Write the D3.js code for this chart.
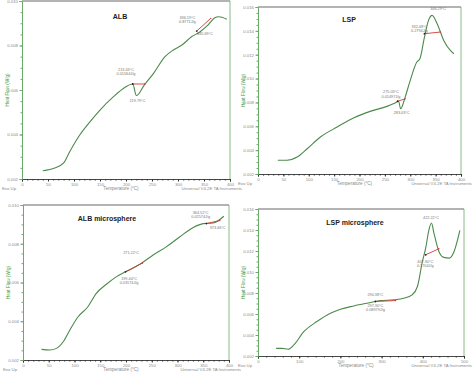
<!DOCTYPE html>
<html>
<head>
<meta charset="utf-8">
<script src="https://cdn.jsdelivr.net/npm/d3@7"></script>
<style>
  body { margin: 0; background: #fff; }
  svg text { font-family: "Liberation Sans", Arial, sans-serif; }
</style>
</head>
<body>
<div id="chart"></div>
<script>
//----------------------------------------------------------------------------------------------------
// values (temperature in °C, heat flow in W/g)
var albTemp   = [40, 63, 80, 92, 111, 131, 150, 176, 195, 213, 220, 235, 253, 275, 291, 307, 326, 342, 357, 371, 378, 394];
var albFlow   = [0.00237, 0.00249, 0.00272, 0.00324, 0.00398, 0.00458, 0.0051, 0.0057, 0.00607, 0.00627, 0.00575, 0.00622,
                 0.00675, 0.0075, 0.0078, 0.00801, 0.00839, 0.00861, 0.0089, 0.00925, 0.00929, 0.00918];

var lspTemp   = [39, 57, 77, 97, 123, 156, 189, 221, 254, 270, 277, 281, 290, 300, 313, 319, 328, 336, 343, 353, 366, 379, 386];
var lspFlow   = [0.00315, 0.00315, 0.00342, 0.00412, 0.0051, 0.00594, 0.00672, 0.00725, 0.00767, 0.00795, 0.0081, 0.00747,
                 0.00845, 0.00985, 0.01139, 0.01166, 0.01348, 0.01488, 0.0153, 0.0146, 0.0132, 0.01236, 0.01208];

var albmTemp  = [36, 52, 65, 78, 91, 107, 126, 142, 162, 181, 199, 227, 252, 278, 304, 330, 350, 369, 390];
var albmFlow  = [0.00255, 0.00252, 0.0026, 0.00294, 0.00355, 0.00423, 0.00475, 0.00543, 0.00591, 0.00629, 0.00655, 0.00694,
                 0.00741, 0.00784, 0.00835, 0.00883, 0.00904, 0.00907, 0.00942];

var lspmTemp  = [44, 58, 73, 87, 111, 143, 176, 200, 233, 273, 297, 330, 354, 374, 387, 399, 407, 415, 421, 427, 439, 451, 464, 476, 490];
var lspmFlow  = [0.00273, 0.00273, 0.00264, 0.00305, 0.00432, 0.00528, 0.00607, 0.00645, 0.00677, 0.00709, 0.00728, 0.00735,
                 0.0075, 0.00782, 0.00862, 0.011, 0.01228, 0.01403, 0.01466, 0.01371, 0.01196, 0.01139, 0.01132, 0.01196, 0.01396];

var panelTitles = ["ALB", "LSP", "ALB microsphere", "LSP microsphere"];
var yTicks8  = [0.002, 0.004, 0.006, 0.008, 0.010];
var yTicks16 = [0.002, 0.004, 0.006, 0.008, 0.010, 0.012, 0.014, 0.016];
var xTicks400 = [0, 50, 100, 150, 200, 250, 300, 350, 400];
var xTicks500 = [0, 100, 200, 300, 400, 500];

// tangent / baseline segments: [t0, f0, t1, f1]
var albBaselines  = [[213, 0.00627, 236, 0.00627], [336, 0.00865, 363, 0.00922]];
var lspBaselines  = [[275, 0.0081, 290, 0.0083], [328, 0.01376, 359, 0.0139]];
var albmBaselines = [[199, 0.00655, 232, 0.00701], [356, 0.00904, 382, 0.0092]];
var lspmBaselines = [[285, 0.00719, 334, 0.00728], [407, 0.01164, 439, 0.01221]];

// annotation labels: [t, f, text lines]
var albLabels  = [[200, 0.00685, ["213.43°C", "0.01564J/g"]], [222, 0.00548, ["219.79°C"]],
                  [318, 0.00918, ["336.19°C", "0.8771J/g"]], [352, 0.00845, ["345.69°C"]]];
var lspLabels  = [[262, 0.00875, ["275.03°C", "0.01497J/g"]], [283, 0.00705, ["283.03°C"]],
                  [318, 0.01425, ["332.48°C", "0.2794J/g"]], [355, 0.01575, ["346.29°C"]]];
var albmLabels = [[210, 0.00745, ["271.22°C"]], [206, 0.00612, ["199.44°C", "0.03174J/g"]],
                  [345, 0.00955, ["364.52°C", "0.02574J/g"]], [378, 0.00877, ["373.46°C"]]];
var lspmLabels = [[285, 0.00775, ["290.38°C"]], [285, 0.00665, ["297.30°C", "0.08979J/g"]],
                  [420, 0.01505, ["422.22°C"]], [406, 0.01085, ["407.30°C", "0.1704J/g"]]];

//----------------------------------------------------------------------------------------------------
var width = 474, height = 383;
var curveColor = "#4b8a4b";
var frameGreen = "#6aab6a";
var labelGray = "#8a8a8a";

var svg = d3.select("#chart").append("svg")
    .attr("width", width)
    .attr("height", height);

var panels = [
   {title: panelTitles[0], temp: albTemp, flow: albFlow, box: [22, 230, 1, 179], xMax: 400, yMax: 0.010,
    xTicks: xTicks400, yTicks: yTicks8, xMinor: 10, yMinor: 0.0005, base: albBaselines, labels: albLabels, titleAt: [120, 19]},
   {title: panelTitles[1], temp: lspTemp, flow: lspFlow, box: [258, 461, 7, 174], xMax: 400, yMax: 0.016,
    xTicks: xTicks400, yTicks: yTicks16, xMinor: 10, yMinor: 0.0005, base: lspBaselines, labels: lspLabels, titleAt: [349, 22]},
   {title: panelTitles[2], temp: albmTemp, flow: albmFlow, box: [23, 229, 205, 360], xMax: 400, yMax: 0.010,
    xTicks: xTicks400, yTicks: yTicks8, xMinor: 10, yMinor: 0.0005, base: albmBaselines, labels: albmLabels, titleAt: [107, 221]},
   {title: panelTitles[3], temp: lspmTemp, flow: lspmFlow, box: [258, 464, 209, 356], xMax: 500, yMax: 0.016,
    xTicks: xTicks500, yTicks: yTicks16, xMinor: 20, yMinor: 0.0005, base: lspmBaselines, labels: lspmLabels, titleAt: [355, 225]}
];

panels.forEach(drawPanel);

//----------------------------------------------------------------------------------------------------
function drawPanel(p)
{
   var left = p.box[0], right = p.box[1], top = p.box[2], bottom = p.box[3];

   var x = d3.scaleLinear().domain([0, p.xMax]).range([left, right]);
   var y = d3.scaleLinear().domain([0.002, p.yMax]).range([bottom, top]);

   var g = svg.append("g");

      // frame: gray top, green right
   g.append("line").attr("x1", left).attr("x2", right).attr("y1", top).attr("y2", top)
      .attr("stroke", "#9a9a9a").attr("stroke-width", 1.4);
   g.append("line").attr("x1", right).attr("x2", right).attr("y1", top).attr("y2", bottom)
      .attr("stroke", frameGreen).attr("stroke-width", 0.8);

      // minor ticks first, then major axes on top
   var xMinorTicks = d3.range(0, p.xMax + 0.001, p.xMinor);
   g.append("g")
      .attr("transform", "translate(0," + bottom + ")")
      .call(d3.axisBottom(x).tickValues(xMinorTicks).tickSize(1.5).tickFormat(""))
      .call(function(a){ a.select(".domain").remove(); a.selectAll("line").attr("stroke", "#333"); });

   var xAxis = g.append("g")
      .attr("transform", "translate(0," + bottom + ")")
      .call(d3.axisBottom(x).tickValues(p.xTicks).tickSize(2.5).tickPadding(1.5).tickFormat(d3.format("d")));
   xAxis.select(".domain").attr("stroke", "#333").attr("stroke-width", 0.9);
   xAxis.selectAll("line").attr("stroke", "#333");
   xAxis.selectAll("text").attr("fill", labelGray).style("font-size", "4.3px");

   var yMinorTicks = d3.range(0.002, p.yMax + 0.00001, p.yMinor);
   g.append("g")
      .attr("transform", "translate(" + left + ",0)")
      .call(d3.axisLeft(y).tickValues(yMinorTicks).tickSize(1.5).tickFormat(""))
      .call(function(a){ a.select(".domain").remove(); a.selectAll("line").attr("stroke", frameGreen); });

   var yAxis = g.append("g")
      .attr("transform", "translate(" + left + ",0)")
      .call(d3.axisLeft(y).tickValues(p.yTicks).tickSize(2.5).tickPadding(1.5).tickFormat(d3.format(".3f")));
   yAxis.select(".domain").attr("stroke", frameGreen).attr("stroke-width", 1);
   yAxis.selectAll("line").attr("stroke", frameGreen);
   yAxis.selectAll("text").attr("fill", labelGray).style("font-size", "4.3px");

      // axis titles and footer texts
   g.append("text")
      .attr("transform", "translate(" + (left - 13) + "," + ((top + bottom) / 2) + ") rotate(-90)")
      .attr("text-anchor", "middle")
      .attr("fill", "#3f9a3f")
      .style("font-size", "4.6px")
      .text("Heat Flow (W/g)");

   g.append("text")
      .attr("x", (left + right) / 2 - 5).attr("y", bottom + 11)
      .attr("text-anchor", "middle").attr("fill", labelGray).style("font-size", "4.6px")
      .text("Temperature (°C)");

   g.append("text")
      .attr("x", left - 20).attr("y", bottom + 11)
      .attr("fill", labelGray).style("font-size", "4.3px")
      .text("Exo Up");

   g.append("text")
      .attr("x", Math.min(right + 12, width - 2)).attr("y", bottom + 11)
      .attr("text-anchor", "end").attr("fill", labelGray).style("font-size", "4.3px")
      .text("Universal V4.2E TA Instruments");

   g.append("text")
      .attr("x", p.titleAt[0]).attr("y", p.titleAt[1])
      .attr("text-anchor", "middle").attr("fill", "#222")
      .style("font-size", "7px").style("font-weight", "bold")
      .text(p.title);

      // the heat flow curve
   var points = p.temp.map(function(t, i){ return [t, p.flow[i]]; });
   var line = d3.line()
      .x(function(d){ return x(d[0]); })
      .y(function(d){ return y(d[1]); })
      .curve(d3.curveMonotoneX);

   g.append("path")
      .datum(points)
      .attr("fill", "none")
      .attr("stroke", curveColor)
      .attr("stroke-width", 1.1)
      .attr("d", line);

      // analysis baselines
   p.base.forEach(function(b){
      g.append("line")
         .attr("x1", x(b[0])).attr("y1", y(b[1]))
         .attr("x2", x(b[2])).attr("y2", y(b[3]))
         .attr("stroke", "#d23a3a").attr("stroke-width", 0.9);
      g.append("circle").attr("cx", x(b[0])).attr("cy", y(b[1])).attr("r", 0.9).attr("fill", "#222");
      g.append("circle").attr("cx", x(b[2])).attr("cy", y(b[3])).attr("r", 0.7).attr("fill", "#c33");
      });

      // annotation labels
   p.labels.forEach(function(l){
      var txt = g.append("text")
         .attr("x", x(l[0])).attr("y", y(l[1]))
         .attr("text-anchor", "middle")
         .attr("fill", "#777")
         .style("font-size", "3.8px");
      l[2].forEach(function(s, i){
         txt.append("tspan").attr("x", x(l[0])).attr("dy", i == 0 ? 0 : 4.2).text(s);
         });
      });

} // drawPanel
//----------------------------------------------------------------------------------------------------
</script>
</body>
</html>
